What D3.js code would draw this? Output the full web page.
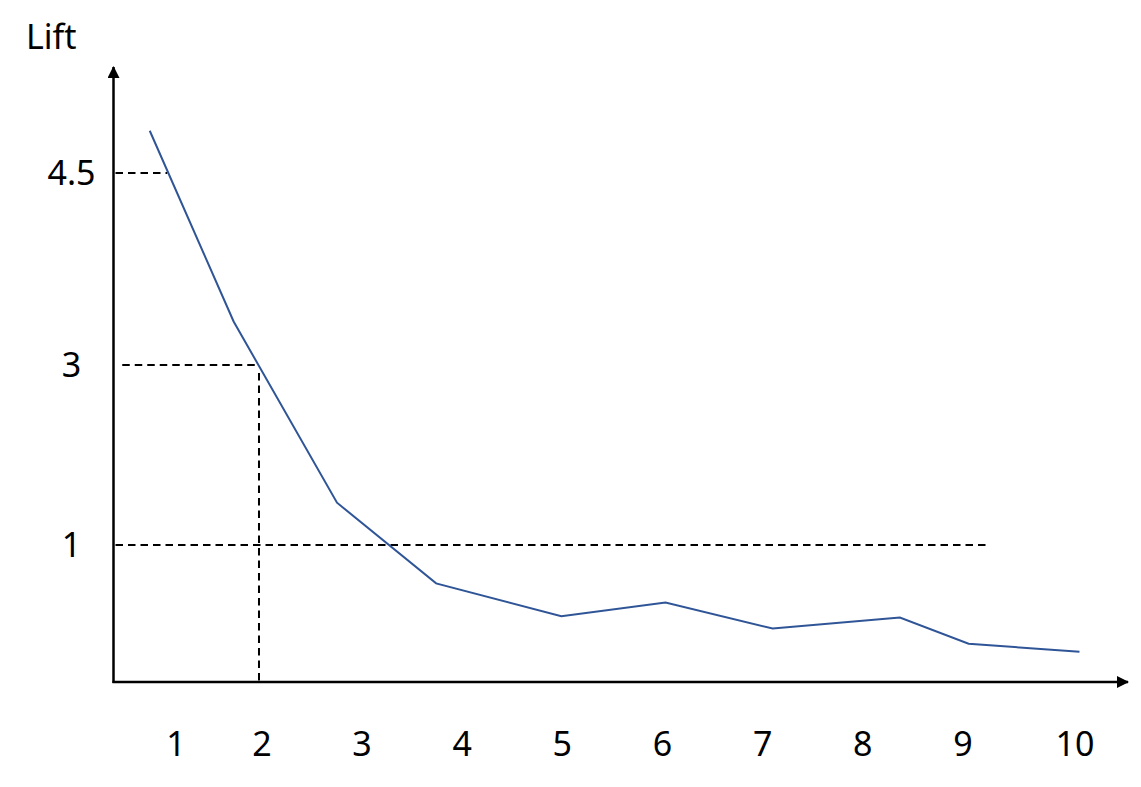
<!DOCTYPE html>
<html>
<head>
<meta charset="utf-8">
<script src="https://cdn.jsdelivr.net/npm/d3@7"></script>
<style>
  html, body { margin: 0; padding: 0; background: #fff; }
  text { font-family: 'Noto Sans', 'Open Sans', sans-serif; fill: #000; }
</style>
</head>
<body>
<svg id="chart" width="1141" height="787"></svg>
<script>
// deciles on the x axis and where the tick labels sit
let deciles = [1, 2, 3, 4, 5, 6, 7, 8, 9, 10];
let yTicks = [4.5, 3, 1];

// lift curve, x read as position along the decile axis
let liftX = [0.58, 1.67, 2.75, 3.74, 4.99, 6.03, 7.1, 8.37, 9.05, 10.04];
let liftY = [4.83, 3.34, 1.47, 0.72, 0.48, 0.58, 0.39, 0.47, 0.28, 0.22];

// dashed guides: [y value, x from, x to]
let guidesH = [
  [4.5, 0.0, 0.86],
  [3, 0.14, 1.95],
  [1, 0.0, 9.22],
];
let guidesV = [[1.965, 3]];

const svg = d3.select('#chart');

const axisX0 = 113.5;
const axisY0 = 682;

// the picture is hand drawn, so the scales are piecewise
const x = d3.scaleLinear()
  .domain([0, 1, 2, 3, 9, 10])
  .range([axisX0, 176, 262, 362, 963, 1075]);
const y = d3.scaleLinear()
  .domain([0, 1, 3, 4.5])
  .range([axisY0, 545, 365, 173]);

const defs = svg.append('defs');
defs.append('marker')
  .attr('id', 'arrow')
  .attr('viewBox', '0 0 12 12')
  .attr('refX', 11)
  .attr('refY', 6)
  .attr('markerWidth', 12)
  .attr('markerHeight', 12)
  .attr('markerUnits', 'userSpaceOnUse')
  .attr('orient', 'auto')
  .append('path')
  .attr('d', 'M0,0 L12,6 L0,12 Z')
  .style('fill', '#000');

// dashed guides
svg.selectAll('line.guide-h')
  .data(guidesH)
  .join('line')
  .attr('class', 'guide-h')
  .attr('x1', (d) => (d[1] == 0 ? axisX0 + 2 : x(d[1])))
  .attr('x2', (d) => x(d[2]))
  .attr('y1', (d) => y(d[0]))
  .attr('y2', (d) => y(d[0]))
  .style('stroke', '#000')
  .style('stroke-width', 2)
  .style('stroke-dasharray', '7.5,5');

svg.selectAll('line.guide-v')
  .data(guidesV)
  .join('line')
  .attr('class', 'guide-v')
  .attr('x1', (d) => x(d[0]))
  .attr('x2', (d) => x(d[0]))
  .attr('y1', (d) => y(d[1]) + 8)
  .attr('y2', axisY0)
  .style('stroke', '#000')
  .style('stroke-width', 2)
  .style('stroke-dasharray', '7.5,5');

// lift line
const line = d3.line()
  .x((d, i) => x(liftX[i]))
  .y((d) => y(d));

svg.append('path')
  .datum(liftY)
  .attr('d', line)
  .style('fill', 'none')
  .style('stroke', '#2f5597')
  .style('stroke-width', 2);

// axes with arrow heads
svg.append('line')
  .attr('x1', axisX0)
  .attr('y1', axisY0 + 1)
  .attr('x2', axisX0)
  .attr('y2', 67)
  .attr('marker-end', 'url(#arrow)')
  .style('stroke', '#000')
  .style('stroke-width', 2.5);

svg.append('line')
  .attr('x1', axisX0 - 1)
  .attr('y1', axisY0)
  .attr('x2', 1128)
  .attr('y2', axisY0)
  .attr('marker-end', 'url(#arrow)')
  .style('stroke', '#000')
  .style('stroke-width', 2.5);

// tick labels
svg.selectAll('text.xlab')
  .data(deciles)
  .join('text')
  .attr('class', 'xlab')
  .attr('x', (d) => x(d))
  .attr('y', axisY0 + 74)
  .attr('text-anchor', 'middle')
  .style('font-size', '34px')
  .text((d) => d);

svg.selectAll('text.ylab')
  .data(yTicks)
  .join('text')
  .attr('class', 'ylab')
  .attr('x', axisX0 - 42)
  .attr('y', (d) => y(d))
  .attr('dy', '0.36em')
  .attr('text-anchor', 'middle')
  .style('font-size', '34px')
  .text((d) => d);

svg.append('text')
  .attr('x', 26)
  .attr('y', 49)
  .style('font-size', '34px')
  .text('Lift');
</script>
</body>
</html>
